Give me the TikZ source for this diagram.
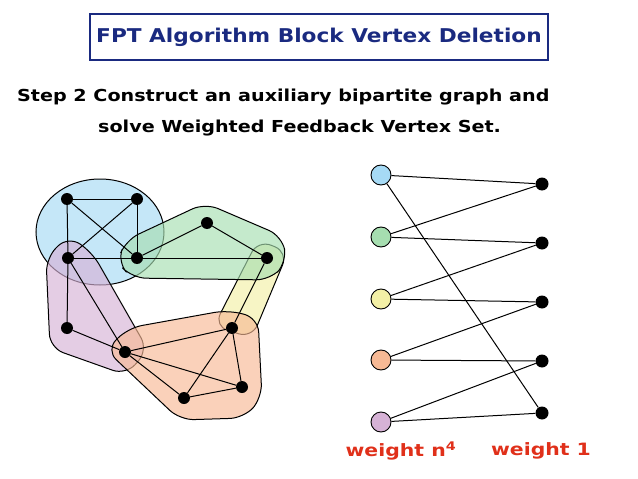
\documentclass[tikz,border=0pt]{standalone}
\usepackage{fontspec}
\usepackage{graphicx}
\setmainfont{DejaVu Sans}
\begin{document}
\begin{tikzpicture}[x=1pt,y=-1pt,
  dot/.style={circle,fill=black,inner sep=0pt,minimum size=12pt},
  bdot/.style={circle,fill=black,inner sep=0pt,minimum size=13pt},
  cnode/.style={circle,draw=black,line width=0.9pt,inner sep=0pt,minimum size=20pt},
  blob/.style={draw=black,line width=1pt,fill opacity=0.65,rounded corners=14pt},
  edge/.style={line width=1pt}]
\useasboundingbox (0,0) rectangle (638,479);
\definecolor{cblue}{HTML}{A6DAF5}
\definecolor{cgreen}{HTML}{A6DEB0}
\definecolor{cyellow}{HTML}{F3F0A6}
\definecolor{corange}{HTML}{F7B995}
\definecolor{cpurple}{HTML}{D6B2D6}
\definecolor{navy}{HTML}{1A2A80}
\definecolor{wred}{HTML}{E0301A}
% title
\node[draw=navy,line width=1.2pt,minimum width=458pt,minimum height=46pt,text=navy,font=\fontsize{19}{22}\selectfont\bfseries] (title) at (319,37) {\scalebox{1.14}[1]{FPT Algorithm Block Vertex Deletion}};
\node[anchor=west,font=\fontsize{16.5}{19}\selectfont\bfseries,inner sep=0pt] (s1) at (17,97) {\scalebox{1.16}[1]{Step 2 Construct an auxiliary bipartite graph and}};
\node[anchor=west,font=\fontsize{16.5}{19}\selectfont\bfseries,inner sep=0pt] (s2) at (98,128) {\scalebox{1.16}[1]{solve Weighted Feedback Vertex Set.}};
% blobs
\fill[cblue,fill opacity=0.65] (100,232) ellipse (64pt and 53pt);
\draw[line width=1pt] (100,232) ellipse (64pt and 53pt);
\path[blob,fill=cpurple] (46,258) -- (68,236) -- (92,252) -- (148,350) -- (126,375) -- (50,348) -- cycle;
\path[blob,fill=cyellow] (258,240) -- (288,252) -- (252,338) -- (214,326) -- cycle;
\path[blob,fill=cgreen] (117,262) -- (126,240) -- (205,203) -- (282,236) -- (287,262) -- (270,280) -- (132,278) -- cycle;
\path[blob,fill=corange] (106,350) -- (128,328) -- (228,310) -- (258,318) -- (262,398) -- (244,418) -- (180,420) -- cycle;
% left graph
\node[dot] (A) at (67,199) {};
\node[dot] (B) at (137,199) {};
\node[dot] (C) at (68,258) {};
\node[dot] (D) at (137,258) {};
\node[dot] (E) at (207,223) {};
\node[dot] (F) at (267,258) {};
\node[dot] (G) at (232,328) {};
\node[dot] (H) at (67,328) {};
\node[dot] (I) at (125,352) {};
\node[dot] (J) at (242,387) {};
\node[dot] (K) at (184,398) {};
\foreach \a/\b in {A/B,A/C,B/D,A/D,B/C,C/D,D/E,E/F,D/F,F/G,C/H,C/I,H/I,I/G,I/J,I/K,G/K,G/J,K/J}
  \draw[edge] (\a) -- (\b);
% bipartite
\node[cnode,fill=cblue] (L1) at (381,175) {};
\node[cnode,fill=cgreen] (L2) at (381,237) {};
\node[cnode,fill=cyellow] (L3) at (381,299) {};
\node[cnode,fill=corange] (L4) at (381,360) {};
\node[cnode,fill=cpurple] (L5) at (381,422) {};
\node[bdot] (R1) at (542,184) {};
\node[bdot] (R2) at (542,243) {};
\node[bdot] (R3) at (542,302) {};
\node[bdot] (R4) at (542,361) {};
\node[bdot] (R5) at (542,413) {};
\foreach \a/\b in {L1/R1,L1/R5,L2/R1,L2/R2,L3/R2,L3/R3,L4/R3,L4/R4,L5/R4,L5/R5}
  \draw[edge] (\a) -- (\b);
\node[text=wred,font=\fontsize{17}{20}\selectfont\bfseries] (w1) at (401,451) {\scalebox{1.2}[1]{weight n\textsuperscript{4}}};
\node[text=wred,font=\fontsize{17}{20}\selectfont\bfseries] (w2) at (541,451) {\scalebox{1.2}[1]{weight 1}};
\end{tikzpicture}
\end{document}
